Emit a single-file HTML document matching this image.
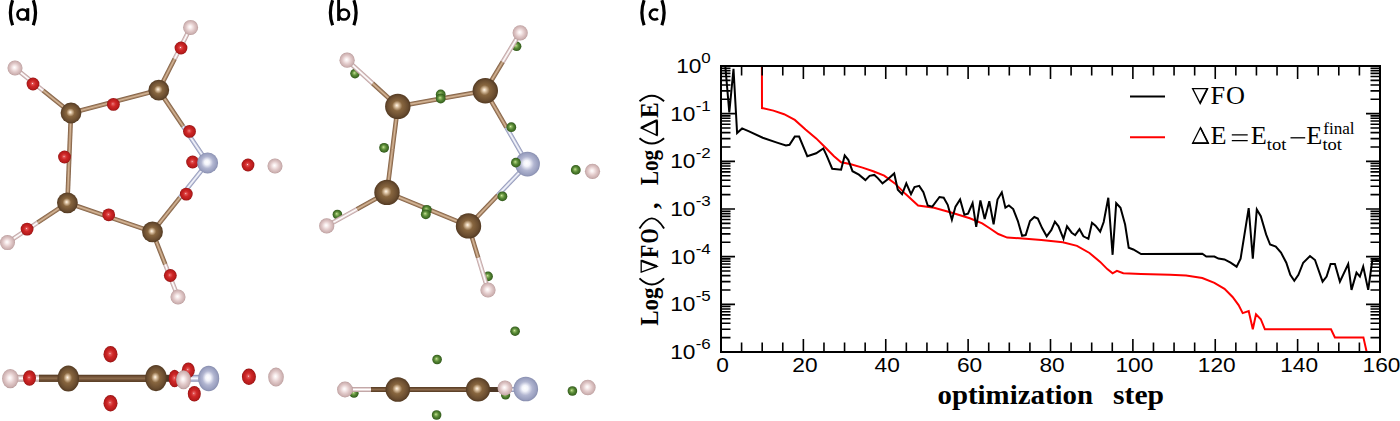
<!DOCTYPE html>
<html><head><meta charset="utf-8"><style>
html,body{margin:0;padding:0;background:#fff;}
svg{display:block;}
</style></head><body>
<svg width="1400" height="421" viewBox="0 0 1400 421">
<defs><radialGradient id="gC" cx="0.5" cy="0.5" r="0.5" fx="0.46" fy="0.46"><stop offset="0" stop-color="#fff8ee"/><stop offset="0.12" stop-color="#e6ceb0"/><stop offset="0.4" stop-color="#88663f"/><stop offset="0.8" stop-color="#6a4d30"/><stop offset="1" stop-color="#533a22"/></radialGradient><radialGradient id="gO" cx="0.5" cy="0.5" r="0.5" fx="0.46" fy="0.46"><stop offset="0" stop-color="#ffe0e0"/><stop offset="0.12" stop-color="#e25a5a"/><stop offset="0.42" stop-color="#d02828"/><stop offset="0.85" stop-color="#b51b1b"/><stop offset="1" stop-color="#901010"/></radialGradient><radialGradient id="gN" cx="0.5" cy="0.5" r="0.5" fx="0.46" fy="0.46"><stop offset="0" stop-color="#ffffff"/><stop offset="0.24" stop-color="#f3f4fb"/><stop offset="0.56" stop-color="#b2b6d1"/><stop offset="0.88" stop-color="#989ebe"/><stop offset="1" stop-color="#868cad"/></radialGradient><radialGradient id="gH" cx="0.5" cy="0.5" r="0.5" fx="0.46" fy="0.46"><stop offset="0" stop-color="#ffffff"/><stop offset="0.2" stop-color="#f9efef"/><stop offset="0.56" stop-color="#e2caca"/><stop offset="0.88" stop-color="#ccb0b0"/><stop offset="1" stop-color="#b89999"/></radialGradient><radialGradient id="gG" cx="0.5" cy="0.5" r="0.5" fx="0.42" fy="0.42"><stop offset="0" stop-color="#d6eab0"/><stop offset="0.16" stop-color="#9cc26c"/><stop offset="0.5" stop-color="#5a8b38"/><stop offset="0.86" stop-color="#3c6822"/><stop offset="1" stop-color="#30561a"/></radialGradient></defs>
<rect width="1400" height="421" fill="#fff"/>
<g><path d="M12.600000000000001,0.2 Q8.1,12.8 12.600000000000001,25.3" fill="none" stroke="#000" stroke-width="3.2"/><circle cx="22.5" cy="14.5" r="5.0" fill="none" stroke="#000" stroke-width="2.7"/><path d="M27.8,8.2 V20.9" stroke="#000" stroke-width="2.9"/><path d="M33.3,0.2 Q37.8,12.8 33.3,25.3" fill="none" stroke="#000" stroke-width="3.2"/><path d="M332.59999999999997,0.2 Q328.09999999999997,12.8 332.59999999999997,25.3" fill="none" stroke="#000" stroke-width="3.2"/><circle cx="344.0" cy="14.5" r="5.0" fill="none" stroke="#000" stroke-width="2.7"/><path d="M338.6,0 V20.9" stroke="#000" stroke-width="2.9"/><path d="M353.90000000000003,0.2 Q358.40000000000003,12.8 353.90000000000003,25.3" fill="none" stroke="#000" stroke-width="3.2"/><path d="M644.1,0.2 Q639.6,12.8 644.1,25.3" fill="none" stroke="#000" stroke-width="3.2"/><path d="M658.0,10.6 A5.0,5.0 0 1 0 658.0,18.4" fill="none" stroke="#000" stroke-width="2.7"/><path d="M661.9,0.2 Q666.4,12.8 661.9,25.3" fill="none" stroke="#000" stroke-width="3.2"/></g>
<line x1="71" y1="113" x2="114.9" y2="101.55" stroke="#86654a" stroke-width="4.6"/><line x1="71" y1="113" x2="114.9" y2="101.55" stroke="#ad8a6a" stroke-width="2.85"/><line x1="71" y1="113" x2="114.9" y2="101.55" stroke="#d4b698" stroke-width="1.15"/><line x1="114.9" y1="101.55" x2="158.8" y2="90.1" stroke="#86654a" stroke-width="4.6"/><line x1="114.9" y1="101.55" x2="158.8" y2="90.1" stroke="#ad8a6a" stroke-width="2.85"/><line x1="114.9" y1="101.55" x2="158.8" y2="90.1" stroke="#d4b698" stroke-width="1.15"/><line x1="71" y1="113" x2="69.2" y2="157.9" stroke="#86654a" stroke-width="4.6"/><line x1="71" y1="113" x2="69.2" y2="157.9" stroke="#ad8a6a" stroke-width="2.85"/><line x1="71" y1="113" x2="69.2" y2="157.9" stroke="#d4b698" stroke-width="1.15"/><line x1="69.2" y1="157.9" x2="67.4" y2="202.8" stroke="#86654a" stroke-width="4.6"/><line x1="69.2" y1="157.9" x2="67.4" y2="202.8" stroke="#ad8a6a" stroke-width="2.85"/><line x1="69.2" y1="157.9" x2="67.4" y2="202.8" stroke="#d4b698" stroke-width="1.15"/><line x1="67.4" y1="202.8" x2="109.95" y2="217.35000000000002" stroke="#86654a" stroke-width="4.6"/><line x1="67.4" y1="202.8" x2="109.95" y2="217.35000000000002" stroke="#ad8a6a" stroke-width="2.85"/><line x1="67.4" y1="202.8" x2="109.95" y2="217.35000000000002" stroke="#d4b698" stroke-width="1.15"/><line x1="109.95" y1="217.35000000000002" x2="152.5" y2="231.9" stroke="#86654a" stroke-width="4.6"/><line x1="109.95" y1="217.35000000000002" x2="152.5" y2="231.9" stroke="#ad8a6a" stroke-width="2.85"/><line x1="109.95" y1="217.35000000000002" x2="152.5" y2="231.9" stroke="#d4b698" stroke-width="1.15"/><line x1="158.8" y1="90.1" x2="183.2" y2="126.5" stroke="#86654a" stroke-width="4.6"/><line x1="158.8" y1="90.1" x2="183.2" y2="126.5" stroke="#ad8a6a" stroke-width="2.85"/><line x1="158.8" y1="90.1" x2="183.2" y2="126.5" stroke="#d4b698" stroke-width="1.15"/><line x1="183.2" y1="126.5" x2="207.6" y2="162.9" stroke="#959bbb" stroke-width="4.6"/><line x1="183.2" y1="126.5" x2="207.6" y2="162.9" stroke="#c6cae0" stroke-width="2.85"/><line x1="183.2" y1="126.5" x2="207.6" y2="162.9" stroke="#f6f7fc" stroke-width="1.15"/><line x1="152.5" y1="231.9" x2="180.05" y2="197.4" stroke="#86654a" stroke-width="4.6"/><line x1="152.5" y1="231.9" x2="180.05" y2="197.4" stroke="#ad8a6a" stroke-width="2.85"/><line x1="152.5" y1="231.9" x2="180.05" y2="197.4" stroke="#d4b698" stroke-width="1.15"/><line x1="180.05" y1="197.4" x2="207.6" y2="162.9" stroke="#959bbb" stroke-width="4.6"/><line x1="180.05" y1="197.4" x2="207.6" y2="162.9" stroke="#c6cae0" stroke-width="2.85"/><line x1="180.05" y1="197.4" x2="207.6" y2="162.9" stroke="#f6f7fc" stroke-width="1.15"/><line x1="71" y1="113" x2="43.0" y2="90.5" stroke="#86654a" stroke-width="4.6"/><line x1="71" y1="113" x2="43.0" y2="90.5" stroke="#ad8a6a" stroke-width="2.85"/><line x1="71" y1="113" x2="43.0" y2="90.5" stroke="#d4b698" stroke-width="1.15"/><line x1="43.0" y1="90.5" x2="15" y2="68" stroke="#c2a6a6" stroke-width="4.6"/><line x1="43.0" y1="90.5" x2="15" y2="68" stroke="#e2d0d0" stroke-width="2.85"/><line x1="43.0" y1="90.5" x2="15" y2="68" stroke="#ffffff" stroke-width="1.15"/><line x1="158.8" y1="90.1" x2="174.7" y2="58.75" stroke="#86654a" stroke-width="4.6"/><line x1="158.8" y1="90.1" x2="174.7" y2="58.75" stroke="#ad8a6a" stroke-width="2.85"/><line x1="158.8" y1="90.1" x2="174.7" y2="58.75" stroke="#d4b698" stroke-width="1.15"/><line x1="174.7" y1="58.75" x2="190.6" y2="27.4" stroke="#c2a6a6" stroke-width="4.6"/><line x1="174.7" y1="58.75" x2="190.6" y2="27.4" stroke="#e2d0d0" stroke-width="2.85"/><line x1="174.7" y1="58.75" x2="190.6" y2="27.4" stroke="#ffffff" stroke-width="1.15"/><line x1="67.4" y1="202.8" x2="37.45" y2="222.7" stroke="#86654a" stroke-width="4.6"/><line x1="67.4" y1="202.8" x2="37.45" y2="222.7" stroke="#ad8a6a" stroke-width="2.85"/><line x1="67.4" y1="202.8" x2="37.45" y2="222.7" stroke="#d4b698" stroke-width="1.15"/><line x1="37.45" y1="222.7" x2="7.5" y2="242.6" stroke="#c2a6a6" stroke-width="4.6"/><line x1="37.45" y1="222.7" x2="7.5" y2="242.6" stroke="#e2d0d0" stroke-width="2.85"/><line x1="37.45" y1="222.7" x2="7.5" y2="242.6" stroke="#ffffff" stroke-width="1.15"/><line x1="152.5" y1="231.9" x2="165.25" y2="264.45" stroke="#86654a" stroke-width="4.6"/><line x1="152.5" y1="231.9" x2="165.25" y2="264.45" stroke="#ad8a6a" stroke-width="2.85"/><line x1="152.5" y1="231.9" x2="165.25" y2="264.45" stroke="#d4b698" stroke-width="1.15"/><line x1="165.25" y1="264.45" x2="178" y2="297" stroke="#c2a6a6" stroke-width="4.6"/><line x1="165.25" y1="264.45" x2="178" y2="297" stroke="#e2d0d0" stroke-width="2.85"/><line x1="165.25" y1="264.45" x2="178" y2="297" stroke="#ffffff" stroke-width="1.15"/><circle cx="192.6" cy="162" r="6.4" fill="url(#gO)"/><circle cx="71" cy="113" r="10.4" fill="url(#gC)"/><circle cx="158.8" cy="90.1" r="10.4" fill="url(#gC)"/><circle cx="67.4" cy="202.8" r="10.4" fill="url(#gC)"/><circle cx="152.5" cy="231.9" r="10.4" fill="url(#gC)"/><circle cx="207.6" cy="162.9" r="10.5" fill="url(#gN)"/><circle cx="15" cy="68" r="7.5" fill="url(#gH)"/><circle cx="190.6" cy="27.4" r="7.5" fill="url(#gH)"/><circle cx="7.5" cy="242.6" r="7.5" fill="url(#gH)"/><circle cx="178" cy="297" r="7.5" fill="url(#gH)"/><circle cx="275" cy="166" r="7.5" fill="url(#gH)"/><circle cx="33" cy="84" r="6.4" fill="url(#gO)"/><circle cx="113.4" cy="104.4" r="6.4" fill="url(#gO)"/><circle cx="181" cy="48" r="6.4" fill="url(#gO)"/><circle cx="189.5" cy="131.4" r="6.4" fill="url(#gO)"/><circle cx="64.5" cy="157" r="6.4" fill="url(#gO)"/><circle cx="248" cy="165" r="6.4" fill="url(#gO)"/><circle cx="186.3" cy="194.1" r="6.4" fill="url(#gO)"/><circle cx="108.7" cy="214.8" r="6.4" fill="url(#gO)"/><circle cx="27.1" cy="229.1" r="6.4" fill="url(#gO)"/><circle cx="170.3" cy="275.5" r="6.4" fill="url(#gO)"/><line x1="10.3" y1="378.3" x2="39" y2="378.3" stroke="#c2a6a6" stroke-width="7"/><line x1="10.3" y1="378.3" x2="39" y2="378.3" stroke="#e2d0d0" stroke-width="4.34"/><line x1="10.3" y1="378.3" x2="39" y2="378.3" stroke="#ffffff" stroke-width="1.75"/><line x1="39" y1="378.3" x2="68.3" y2="378.3" stroke="#5e4228" stroke-width="7.3"/><line x1="39" y1="378.3" x2="68.3" y2="378.3" stroke="#725238" stroke-width="4.53"/><line x1="39" y1="378.3" x2="68.3" y2="378.3" stroke="#8a6a4a" stroke-width="1.82"/><line x1="68" y1="378.3" x2="156" y2="378.3" stroke="#5e4228" stroke-width="7.3"/><line x1="68" y1="378.3" x2="156" y2="378.3" stroke="#725238" stroke-width="4.53"/><line x1="68" y1="378.3" x2="156" y2="378.3" stroke="#8a6a4a" stroke-width="1.82"/><line x1="156" y1="378.3" x2="182" y2="378.3" stroke="#4e3826" stroke-width="7"/><line x1="182" y1="378.3" x2="208.7" y2="378.3" stroke="#959bbb" stroke-width="7"/><line x1="182" y1="378.3" x2="208.7" y2="378.3" stroke="#c6cae0" stroke-width="4.34"/><line x1="182" y1="378.3" x2="208.7" y2="378.3" stroke="#f6f7fc" stroke-width="1.75"/><ellipse cx="188.3" cy="370.2" rx="6.5" ry="7.8" fill="url(#gO)"/><ellipse cx="174.6" cy="378.5" rx="5.9" ry="8.8" fill="url(#gO)"/><ellipse cx="10.3" cy="378.6" rx="8.2" ry="9.6" fill="url(#gH)"/><ellipse cx="29.5" cy="378" rx="6.5" ry="7.8" fill="url(#gO)"/><ellipse cx="68.3" cy="378.5" rx="10.8" ry="13.1" fill="url(#gC)"/><ellipse cx="156" cy="378.1" rx="10.8" ry="13.1" fill="url(#gC)"/><ellipse cx="183.5" cy="379.7" rx="7.5" ry="9.5" fill="url(#gH)"/><ellipse cx="208.7" cy="378.5" rx="10.5" ry="12.7" fill="url(#gN)"/><ellipse cx="194.3" cy="393.8" rx="6.5" ry="7.8" fill="url(#gO)"/><ellipse cx="110.5" cy="354.2" rx="7.0" ry="8.2" fill="url(#gO)"/><ellipse cx="110.5" cy="403.3" rx="7.0" ry="8.2" fill="url(#gO)"/><ellipse cx="248.9" cy="376.8" rx="7.0" ry="8.2" fill="url(#gO)"/><ellipse cx="276" cy="377.1" rx="7.8" ry="9.5" fill="url(#gH)"/><circle cx="355" cy="73.6" r="4.8" fill="url(#gG)"/><circle cx="516.6" cy="46.3" r="4.8" fill="url(#gG)"/><circle cx="337.4" cy="214.5" r="4.8" fill="url(#gG)"/><circle cx="488.1" cy="276.4" r="4.8" fill="url(#gG)"/><line x1="397.8" y1="106.4" x2="441.55" y2="98.6" stroke="#86654a" stroke-width="4.6"/><line x1="397.8" y1="106.4" x2="441.55" y2="98.6" stroke="#ad8a6a" stroke-width="2.85"/><line x1="397.8" y1="106.4" x2="441.55" y2="98.6" stroke="#d4b698" stroke-width="1.15"/><line x1="441.55" y1="98.6" x2="485.3" y2="90.8" stroke="#86654a" stroke-width="4.6"/><line x1="441.55" y1="98.6" x2="485.3" y2="90.8" stroke="#ad8a6a" stroke-width="2.85"/><line x1="441.55" y1="98.6" x2="485.3" y2="90.8" stroke="#d4b698" stroke-width="1.15"/><line x1="397.8" y1="106.4" x2="392.4" y2="149.4" stroke="#86654a" stroke-width="4.6"/><line x1="397.8" y1="106.4" x2="392.4" y2="149.4" stroke="#ad8a6a" stroke-width="2.85"/><line x1="397.8" y1="106.4" x2="392.4" y2="149.4" stroke="#d4b698" stroke-width="1.15"/><line x1="392.4" y1="149.4" x2="387" y2="192.4" stroke="#86654a" stroke-width="4.6"/><line x1="392.4" y1="149.4" x2="387" y2="192.4" stroke="#ad8a6a" stroke-width="2.85"/><line x1="392.4" y1="149.4" x2="387" y2="192.4" stroke="#d4b698" stroke-width="1.15"/><line x1="387" y1="192.4" x2="427.75" y2="209.15" stroke="#86654a" stroke-width="4.6"/><line x1="387" y1="192.4" x2="427.75" y2="209.15" stroke="#ad8a6a" stroke-width="2.85"/><line x1="387" y1="192.4" x2="427.75" y2="209.15" stroke="#d4b698" stroke-width="1.15"/><line x1="427.75" y1="209.15" x2="468.5" y2="225.9" stroke="#86654a" stroke-width="4.6"/><line x1="427.75" y1="209.15" x2="468.5" y2="225.9" stroke="#ad8a6a" stroke-width="2.85"/><line x1="427.75" y1="209.15" x2="468.5" y2="225.9" stroke="#d4b698" stroke-width="1.15"/><line x1="485.3" y1="90.8" x2="506.4" y2="127.44999999999999" stroke="#86654a" stroke-width="4.6"/><line x1="485.3" y1="90.8" x2="506.4" y2="127.44999999999999" stroke="#ad8a6a" stroke-width="2.85"/><line x1="485.3" y1="90.8" x2="506.4" y2="127.44999999999999" stroke="#d4b698" stroke-width="1.15"/><line x1="506.4" y1="127.44999999999999" x2="527.5" y2="164.1" stroke="#959bbb" stroke-width="4.6"/><line x1="506.4" y1="127.44999999999999" x2="527.5" y2="164.1" stroke="#c6cae0" stroke-width="2.85"/><line x1="506.4" y1="127.44999999999999" x2="527.5" y2="164.1" stroke="#f6f7fc" stroke-width="1.15"/><line x1="468.5" y1="225.9" x2="498.0" y2="195.0" stroke="#86654a" stroke-width="4.6"/><line x1="468.5" y1="225.9" x2="498.0" y2="195.0" stroke="#ad8a6a" stroke-width="2.85"/><line x1="468.5" y1="225.9" x2="498.0" y2="195.0" stroke="#d4b698" stroke-width="1.15"/><line x1="498.0" y1="195.0" x2="527.5" y2="164.1" stroke="#959bbb" stroke-width="4.6"/><line x1="498.0" y1="195.0" x2="527.5" y2="164.1" stroke="#c6cae0" stroke-width="2.85"/><line x1="498.0" y1="195.0" x2="527.5" y2="164.1" stroke="#f6f7fc" stroke-width="1.15"/><line x1="397.8" y1="106.4" x2="372.45000000000005" y2="83.30000000000001" stroke="#86654a" stroke-width="4.6"/><line x1="397.8" y1="106.4" x2="372.45000000000005" y2="83.30000000000001" stroke="#ad8a6a" stroke-width="2.85"/><line x1="397.8" y1="106.4" x2="372.45000000000005" y2="83.30000000000001" stroke="#d4b698" stroke-width="1.15"/><line x1="372.45000000000005" y1="83.30000000000001" x2="347.1" y2="60.2" stroke="#c2a6a6" stroke-width="4.6"/><line x1="372.45000000000005" y1="83.30000000000001" x2="347.1" y2="60.2" stroke="#e2d0d0" stroke-width="2.85"/><line x1="372.45000000000005" y1="83.30000000000001" x2="347.1" y2="60.2" stroke="#ffffff" stroke-width="1.15"/><line x1="485.3" y1="90.8" x2="502.75" y2="61.8" stroke="#86654a" stroke-width="4.6"/><line x1="485.3" y1="90.8" x2="502.75" y2="61.8" stroke="#ad8a6a" stroke-width="2.85"/><line x1="485.3" y1="90.8" x2="502.75" y2="61.8" stroke="#d4b698" stroke-width="1.15"/><line x1="502.75" y1="61.8" x2="520.2" y2="32.8" stroke="#c2a6a6" stroke-width="4.6"/><line x1="502.75" y1="61.8" x2="520.2" y2="32.8" stroke="#e2d0d0" stroke-width="2.85"/><line x1="502.75" y1="61.8" x2="520.2" y2="32.8" stroke="#ffffff" stroke-width="1.15"/><line x1="387" y1="192.4" x2="356.85" y2="209.15" stroke="#86654a" stroke-width="4.6"/><line x1="387" y1="192.4" x2="356.85" y2="209.15" stroke="#ad8a6a" stroke-width="2.85"/><line x1="387" y1="192.4" x2="356.85" y2="209.15" stroke="#d4b698" stroke-width="1.15"/><line x1="356.85" y1="209.15" x2="326.7" y2="225.9" stroke="#c2a6a6" stroke-width="4.6"/><line x1="356.85" y1="209.15" x2="326.7" y2="225.9" stroke="#e2d0d0" stroke-width="2.85"/><line x1="356.85" y1="209.15" x2="326.7" y2="225.9" stroke="#ffffff" stroke-width="1.15"/><line x1="468.5" y1="225.9" x2="478.25" y2="257.95" stroke="#86654a" stroke-width="4.6"/><line x1="468.5" y1="225.9" x2="478.25" y2="257.95" stroke="#ad8a6a" stroke-width="2.85"/><line x1="468.5" y1="225.9" x2="478.25" y2="257.95" stroke="#d4b698" stroke-width="1.15"/><line x1="478.25" y1="257.95" x2="488" y2="290" stroke="#c2a6a6" stroke-width="4.6"/><line x1="478.25" y1="257.95" x2="488" y2="290" stroke="#e2d0d0" stroke-width="2.85"/><line x1="478.25" y1="257.95" x2="488" y2="290" stroke="#ffffff" stroke-width="1.15"/><circle cx="397.8" cy="106.4" r="12.7" fill="url(#gC)"/><circle cx="485.3" cy="90.8" r="12.7" fill="url(#gC)"/><circle cx="387" cy="192.4" r="12.7" fill="url(#gC)"/><circle cx="468.5" cy="225.9" r="12.7" fill="url(#gC)"/><circle cx="527.5" cy="164.1" r="12.4" fill="url(#gN)"/><circle cx="347.1" cy="60.2" r="7.6" fill="url(#gH)"/><circle cx="520.2" cy="32.8" r="7.6" fill="url(#gH)"/><circle cx="326.7" cy="225.9" r="7.6" fill="url(#gH)"/><circle cx="488" cy="290" r="7.6" fill="url(#gH)"/><circle cx="592.5" cy="171.3" r="7.6" fill="url(#gH)"/><circle cx="440.7" cy="94.4" r="4.9" fill="url(#gG)"/><circle cx="440.7" cy="98.5" r="4.9" fill="url(#gG)"/><circle cx="511.3" cy="127.2" r="4.9" fill="url(#gG)"/><circle cx="384.1" cy="147.8" r="4.9" fill="url(#gG)"/><circle cx="575.8" cy="169.9" r="4.9" fill="url(#gG)"/><circle cx="502.4" cy="196.3" r="4.9" fill="url(#gG)"/><circle cx="426.8" cy="209.8" r="4.9" fill="url(#gG)"/><circle cx="425.8" cy="214.3" r="4.9" fill="url(#gG)"/><circle cx="515.9" cy="162.6" r="4.9" fill="url(#gG)"/><circle cx="354" cy="393.2" r="4.6" fill="url(#gG)"/><circle cx="505.6" cy="395" r="4.6" fill="url(#gG)"/><line x1="345" y1="389.5" x2="371" y2="389.5" stroke="#c2a6a6" stroke-width="5"/><line x1="345" y1="389.5" x2="371" y2="389.5" stroke="#e2d0d0" stroke-width="3.10"/><line x1="345" y1="389.5" x2="371" y2="389.5" stroke="#ffffff" stroke-width="1.25"/><line x1="371" y1="389.5" x2="397.8" y2="389.5" stroke="#5e4228" stroke-width="5"/><line x1="371" y1="389.5" x2="397.8" y2="389.5" stroke="#725238" stroke-width="3.10"/><line x1="371" y1="389.5" x2="397.8" y2="389.5" stroke="#8a6a4a" stroke-width="1.25"/><line x1="397.8" y1="389.5" x2="478" y2="389.5" stroke="#5e4228" stroke-width="5"/><line x1="397.8" y1="389.5" x2="478" y2="389.5" stroke="#725238" stroke-width="3.10"/><line x1="397.8" y1="389.5" x2="478" y2="389.5" stroke="#8a6a4a" stroke-width="1.25"/><line x1="478" y1="389.5" x2="500" y2="389.5" stroke="#4e3826" stroke-width="5"/><line x1="500" y1="389.5" x2="526" y2="389.5" stroke="#959bbb" stroke-width="5"/><line x1="500" y1="389.5" x2="526" y2="389.5" stroke="#c6cae0" stroke-width="3.10"/><line x1="500" y1="389.5" x2="526" y2="389.5" stroke="#f6f7fc" stroke-width="1.25"/><circle cx="345" cy="389.5" r="7.9" fill="url(#gH)"/><circle cx="397.8" cy="389.5" r="12.3" fill="url(#gC)"/><circle cx="478" cy="389.5" r="12.1" fill="url(#gC)"/><circle cx="505" cy="388" r="7.5" fill="url(#gH)"/><circle cx="525.8" cy="389" r="12.3" fill="url(#gN)"/><circle cx="572.4" cy="391" r="4.8" fill="url(#gG)"/><circle cx="515.1" cy="331.2" r="4.8" fill="url(#gG)"/><circle cx="437.1" cy="359.5" r="4.8" fill="url(#gG)"/><circle cx="436.6" cy="415" r="4.8" fill="url(#gG)"/><circle cx="587.8" cy="387.5" r="7.8" fill="url(#gH)"/>
<defs><clipPath id="clip"><rect x="721" y="66" width="659" height="286"/></clipPath></defs><g clip-path="url(#clip)"><polyline points="761.9,60 762,108.1 773.4,110.6 784.1,114.2 794.8,119.9 805.5,129.5 816.2,138.4 825.1,147.3 834,156.2 841.1,162.2 850,164 862.5,167.6 873.2,171.2 884.2,175.6 894.9,183.4 905.6,194.1 918.1,205.5 934.1,207.7 951.9,212.7 969.8,218.3 982.2,223.3 989.3,228 998.3,234 1007.2,237.6 1019.6,238.3 1041.4,239.9 1062.8,242.3 1077,245.9 1089.5,253 1100.2,261.9 1107.3,269.1 1112.6,273.3 1116.9,270.8 1123.3,273.3 1141.1,274.1 1170,274.8 1186.1,275.6 1202.3,278 1214.4,282.9 1224.5,288.9 1232.6,297 1238.6,305.1 1242.7,313.1 1248.7,311.1 1252.8,329.3 1256,314.3 1260.8,319.2 1264.9,329.3 1331,329.3 1334.9,337.4 1363.4,337.4 1368.5,360" fill="none" stroke="#ff0000" stroke-width="2" stroke-linejoin="miter"/><polyline points="725.3,66 729.3,112.5 733.5,68.9 737.1,133 742.1,128.4 748.5,131.2 762.7,137.7 777,142.6 785.9,145.5 789.5,144.8 794.8,136.6 799.1,136.6 807.3,156.2 816.2,153.3 823.3,148.4 826.9,156.2 832.2,168.7 841.1,169.7 844.7,155.5 848.3,159.8 852.5,171.2 858.9,174.7 865.4,180.1 869.6,175.8 874.3,174.9 877.8,178.1 882.5,183.4 887.8,179.2 894.2,173.5 897.8,189.8 902.1,194.1 906.3,183.4 911,194.1 914.5,187 919.2,185.9 923.4,192.3 927.7,205.5 932.3,206.6 939.5,197 943.7,197.7 947.7,204.8 951.9,219.8 955.5,206.6 960.1,199.5 964.4,214.8 968,213.7 972.6,203 976.2,226.9 980.4,200.5 984.7,219.1 989.3,201.3 993.6,224.4 997.5,199.5 1001.8,192.3 1005.4,207.7 1008.9,205.5 1013.2,209.1 1017.8,220.8 1022.1,235.8 1025.7,235.1 1030,221 1034.3,217 1037.8,218.5 1042.1,228.1 1046.7,236.3 1051.4,229.9 1054.9,221.7 1058.5,226.3 1063.5,238.8 1067,226.3 1071.7,232.7 1075.2,235.2 1079.5,229.2 1083.4,236.3 1088.4,238.8 1092,222.8 1095.5,225.6 1100.2,231.7 1103.7,222 1108.3,197.8 1112.6,254.8 1116.2,203.2 1120.5,207.8 1125.1,224.5 1128.7,247.7 1133.3,249.5 1141.1,254.1 1202.3,253.8 1206.3,256.6 1214.4,256.6 1218.4,258.6 1224.5,259.4 1230.6,262.7 1236.6,266.7 1240.6,258.6 1248.7,208.2 1252.8,258.6 1256.8,209.4 1260.8,216.2 1266.1,234.4 1270.1,244.5 1275.8,246.5 1281,252.6 1286.3,262.7 1290.3,274.8 1294.3,280.8 1298.4,274.8 1303.2,262.7 1310,256 1315,260 1322.6,281.6 1326.6,276.6 1330.6,264 1334.9,264 1339.9,281.6 1348.2,264 1351.5,289.9 1356.5,272.6 1359.9,276.6 1363.2,266.6 1368.2,289.9 1372.5,259 1380,261" fill="none" stroke="#000" stroke-width="2" stroke-linejoin="miter"/></g><path d="M721.00,352v-13M721.00,66v13M741.59,352v-9.5M741.59,66v9.5M762.19,352v-9.5M762.19,66v9.5M782.78,352v-9.5M782.78,66v9.5M803.38,352v-13M803.38,66v13M823.97,352v-9.5M823.97,66v9.5M844.56,352v-9.5M844.56,66v9.5M865.16,352v-9.5M865.16,66v9.5M885.75,352v-13M885.75,66v13M906.34,352v-9.5M906.34,66v9.5M926.94,352v-9.5M926.94,66v9.5M947.53,352v-9.5M947.53,66v9.5M968.12,352v-13M968.12,66v13M988.72,352v-9.5M988.72,66v9.5M1009.31,352v-9.5M1009.31,66v9.5M1029.91,352v-9.5M1029.91,66v9.5M1050.50,352v-13M1050.50,66v13M1071.09,352v-9.5M1071.09,66v9.5M1091.69,352v-9.5M1091.69,66v9.5M1112.28,352v-9.5M1112.28,66v9.5M1132.88,352v-13M1132.88,66v13M1153.47,352v-9.5M1153.47,66v9.5M1174.06,352v-9.5M1174.06,66v9.5M1194.66,352v-9.5M1194.66,66v9.5M1215.25,352v-13M1215.25,66v13M1235.84,352v-9.5M1235.84,66v9.5M1256.44,352v-9.5M1256.44,66v9.5M1277.03,352v-9.5M1277.03,66v9.5M1297.62,352v-13M1297.62,66v13M1318.22,352v-9.5M1318.22,66v9.5M1338.81,352v-9.5M1338.81,66v9.5M1359.41,352v-9.5M1359.41,66v9.5M1380.00,352v-13M1380.00,66v13M721,66.00h14M1380,66.00h-14M721,99.32h9.5M1380,99.32h-9.5M721,90.92h9.5M1380,90.92h-9.5M721,84.97h9.5M1380,84.97h-9.5M721,80.35h9.5M1380,80.35h-9.5M721,76.57h9.5M1380,76.57h-9.5M721,73.38h9.5M1380,73.38h-9.5M721,70.62h9.5M1380,70.62h-9.5M721,68.18h9.5M1380,68.18h-9.5M721,113.67h14M1380,113.67h-14M721,146.98h9.5M1380,146.98h-9.5M721,138.59h9.5M1380,138.59h-9.5M721,132.64h9.5M1380,132.64h-9.5M721,128.02h9.5M1380,128.02h-9.5M721,124.24h9.5M1380,124.24h-9.5M721,121.05h9.5M1380,121.05h-9.5M721,118.29h9.5M1380,118.29h-9.5M721,115.85h9.5M1380,115.85h-9.5M721,161.33h14M1380,161.33h-14M721,194.65h9.5M1380,194.65h-9.5M721,186.26h9.5M1380,186.26h-9.5M721,180.30h9.5M1380,180.30h-9.5M721,175.68h9.5M1380,175.68h-9.5M721,171.91h9.5M1380,171.91h-9.5M721,168.72h9.5M1380,168.72h-9.5M721,165.95h9.5M1380,165.95h-9.5M721,163.51h9.5M1380,163.51h-9.5M721,209.00h14M1380,209.00h-14M721,242.32h9.5M1380,242.32h-9.5M721,233.92h9.5M1380,233.92h-9.5M721,227.97h9.5M1380,227.97h-9.5M721,223.35h9.5M1380,223.35h-9.5M721,219.57h9.5M1380,219.57h-9.5M721,216.38h9.5M1380,216.38h-9.5M721,213.62h9.5M1380,213.62h-9.5M721,211.18h9.5M1380,211.18h-9.5M721,256.67h14M1380,256.67h-14M721,289.98h9.5M1380,289.98h-9.5M721,281.59h9.5M1380,281.59h-9.5M721,275.64h9.5M1380,275.64h-9.5M721,271.02h9.5M1380,271.02h-9.5M721,267.24h9.5M1380,267.24h-9.5M721,264.05h9.5M1380,264.05h-9.5M721,261.29h9.5M1380,261.29h-9.5M721,258.85h9.5M1380,258.85h-9.5M721,304.33h14M1380,304.33h-14M721,337.65h9.5M1380,337.65h-9.5M721,329.26h9.5M1380,329.26h-9.5M721,323.30h9.5M1380,323.30h-9.5M721,318.68h9.5M1380,318.68h-9.5M721,314.91h9.5M1380,314.91h-9.5M721,311.72h9.5M1380,311.72h-9.5M721,308.95h9.5M1380,308.95h-9.5M721,306.51h9.5M1380,306.51h-9.5M721,352.00h14M1380,352.00h-14" stroke="#000" stroke-width="1.6" fill="none"/><rect x="721" y="66" width="659" height="286" fill="none" stroke="#000" stroke-width="2"/><g font-family="Liberation Sans, sans-serif" font-size="19.4" fill="#000"><text transform="translate(722.5,372.3) scale(1.17,1)" text-anchor="middle">0</text><text transform="translate(804.9,372.3) scale(1.17,1)" text-anchor="middle">20</text><text transform="translate(887.2,372.3) scale(1.17,1)" text-anchor="middle">40</text><text transform="translate(969.6,372.3) scale(1.17,1)" text-anchor="middle">60</text><text transform="translate(1052.0,372.3) scale(1.17,1)" text-anchor="middle">80</text><text transform="translate(1134.4,372.3) scale(1.17,1)" text-anchor="middle">100</text><text transform="translate(1216.8,372.3) scale(1.17,1)" text-anchor="middle">120</text><text transform="translate(1299.1,372.3) scale(1.17,1)" text-anchor="middle">140</text><text transform="translate(1381.5,372.3) scale(1.17,1)" text-anchor="middle">160</text><text transform="translate(710.8,62.8) scale(1.17,1)" text-anchor="end" font-size="14.5">0</text><text transform="translate(701.4,72.9) scale(1.17,1)" text-anchor="end">10</text><text transform="translate(710.8,110.5) scale(1.17,1)" text-anchor="end" font-size="14.5">-1</text><text transform="translate(695.5,120.6) scale(1.17,1)" text-anchor="end">10</text><text transform="translate(710.8,158.1) scale(1.17,1)" text-anchor="end" font-size="14.5">-2</text><text transform="translate(695.5,168.2) scale(1.17,1)" text-anchor="end">10</text><text transform="translate(710.8,205.8) scale(1.17,1)" text-anchor="end" font-size="14.5">-3</text><text transform="translate(695.5,215.9) scale(1.17,1)" text-anchor="end">10</text><text transform="translate(710.8,253.5) scale(1.17,1)" text-anchor="end" font-size="14.5">-4</text><text transform="translate(695.5,263.6) scale(1.17,1)" text-anchor="end">10</text><text transform="translate(710.8,301.1) scale(1.17,1)" text-anchor="end" font-size="14.5">-5</text><text transform="translate(695.5,311.2) scale(1.17,1)" text-anchor="end">10</text><text transform="translate(710.8,348.8) scale(1.17,1)" text-anchor="end" font-size="14.5">-6</text><text transform="translate(695.5,358.9) scale(1.17,1)" text-anchor="end">10</text></g><g font-family="Liberation Serif, serif" font-weight="bold" font-size="27.5" fill="#000"><text x="937.5" y="403.6" textLength="155.5" lengthAdjust="spacingAndGlyphs">optimization</text><text x="1113" y="403.6" textLength="51" lengthAdjust="spacingAndGlyphs">step</text></g><g transform="translate(657.8,0) rotate(-90)" font-family="Liberation Serif, serif" fill="#000"><text x="-325.8" y="0" textLength="38.3" lengthAdjust="spacingAndGlyphs" font-size="24.5" font-weight="bold">Log</text><path d="M-278.3,-18.3 Q-290.5,-6 -278.3,6.3" fill="none" stroke="#000" stroke-width="1.9"/><path d="M-272.1,-16.6 L-266.4,-0.9 L-260.7,-16.6 Z" fill="none" stroke="#000" stroke-width="1.3"/><path d="M-266.4,-0.9 L-260.7,-16.6" fill="none" stroke="#000" stroke-width="2.3"/><text x="-258.2" y="0" textLength="13.6" lengthAdjust="spacingAndGlyphs" font-size="24.5" font-weight="bold">F</text><text x="-243.5" y="0" textLength="15.2" lengthAdjust="spacingAndGlyphs" font-size="24.5" font-weight="bold">O</text><path d="M-228.6,-18.3 Q-208.2,-6 -228.6,6.3" fill="none" stroke="#000" stroke-width="1.9"/><text x="-209.0" y="0" textLength="6.5" lengthAdjust="spacingAndGlyphs" font-size="24.5" font-weight="bold">,</text><text x="-185.0" y="0" textLength="35.0" lengthAdjust="spacingAndGlyphs" font-size="24.5" font-weight="bold">Log</text><path d="M-138.2,-18.3 Q-149.0,-6 -138.2,6.3" fill="none" stroke="#000" stroke-width="1.9"/><path d="M-135.4,-0.9 L-127.9,-16.6 L-120.4,-0.9 Z" fill="none" stroke="#000" stroke-width="1.3"/><path d="M-127.9,-16.6 L-120.4,-0.9 M-135.4,-0.9 H-120.4" fill="none" stroke="#000" stroke-width="2.3"/><text x="-118.0" y="0" textLength="15.7" lengthAdjust="spacingAndGlyphs" font-size="24.5" font-weight="bold">E</text><path d="M-101.2,-18.3 Q-90.4,-6 -101.2,6.3" fill="none" stroke="#000" stroke-width="1.9"/></g><line x1="1130" y1="96.6" x2="1165" y2="96.6" stroke="#000" stroke-width="2"/><line x1="1130" y1="137.2" x2="1165" y2="137.2" stroke="#f00" stroke-width="2"/><g font-family="Liberation Serif, serif" fill="#000"><path d="M1192.6,88.6 H1207.6 L1200.2,103.6 Z" fill="none" stroke="#000" stroke-width="1.3" stroke-linejoin="miter"/><path d="M1207.2,88.9 L1199.9,103.2" stroke="#000" stroke-width="1.6"/><path d="M1200.4,127.8 L1192.6,143.3 H1208.4 Z" fill="none" stroke="#000" stroke-width="1.3" stroke-linejoin="miter"/><path d="M1200.6,128 L1208,143" stroke="#000" stroke-width="1.6"/><path d="M1192.6,143 H1208.4" stroke="#000" stroke-width="1.6"/><text transform="translate(1210.6,104.4) scale(1.05,1)" font-size="25">F</text><text transform="translate(1226.0,104.4) scale(1.05,1)" font-size="25">O</text><text transform="translate(1210.6,144.1) scale(1.05,1)" font-size="25">E</text><path d="M1231.8,134.9 H1247.7 M1231.8,140.6 H1247.7" stroke="#000" stroke-width="1.3"/><text transform="translate(1250.8,144.1) scale(1.05,1)" font-size="25">E</text><text transform="translate(1266.8,150.3) scale(1.08,1)" font-size="17.2">tot</text><path d="M1290.5,137.8 H1305.2" stroke="#000" stroke-width="1.3"/><text transform="translate(1306.3,144.1) scale(1.05,1)" font-size="25">E</text><text transform="translate(1322.4,150.3) scale(1.08,1)" font-size="17.2">tot</text><text transform="translate(1323.2,133.7) scale(1.04,1)" font-size="16.5">final</text></g>
</svg></body></html>
